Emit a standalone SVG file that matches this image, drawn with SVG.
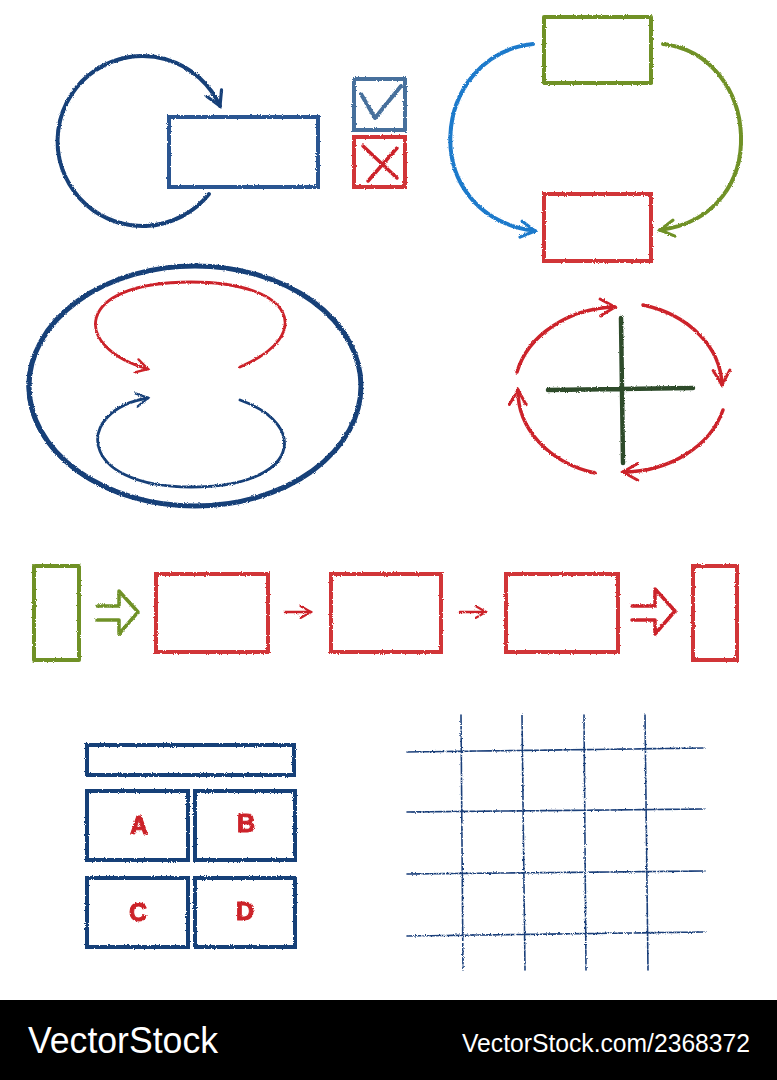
<svg xmlns="http://www.w3.org/2000/svg" width="777" height="1080" viewBox="0 0 777 1080">
<defs>
<filter id="rough" x="-5%" y="-5%" width="110%" height="110%">
<feTurbulence type="fractalNoise" baseFrequency="0.9" numOctaves="2" seed="3" result="n"/>
<feDisplacementMap in="SourceGraphic" in2="n" scale="2.6" xChannelSelector="R" yChannelSelector="G"/>
</filter>
<marker id="ahNavy" viewBox="0 0 10 10" refX="8" refY="5" markerWidth="5" markerHeight="5" orient="auto" markerUnits="strokeWidth"><path d="M1,1 L8,5 L1,9" fill="none" stroke="#173f78" stroke-width="1.6" stroke-linecap="round"/></marker>
<marker id="ahBlue" viewBox="0 0 10 10" refX="8" refY="5" markerWidth="5" markerHeight="5" orient="auto" markerUnits="strokeWidth"><path d="M1,1 L8,5 L1,9" fill="none" stroke="#1f7acb" stroke-width="1.6" stroke-linecap="round"/></marker>
<marker id="ahGreen" viewBox="0 0 10 10" refX="8" refY="5" markerWidth="5" markerHeight="5" orient="auto" markerUnits="strokeWidth"><path d="M1,1 L8,5 L1,9" fill="none" stroke="#6f9127" stroke-width="1.6" stroke-linecap="round"/></marker>
<marker id="ahRed" viewBox="0 0 10 10" refX="8" refY="5" markerWidth="6" markerHeight="6" orient="auto" markerUnits="strokeWidth"><path d="M1,1 L8,5 L1,9" fill="none" stroke="#cc2229" stroke-width="1.4" stroke-linecap="round"/></marker>
<marker id="ahNavyThin" viewBox="0 0 10 10" refX="8" refY="5" markerWidth="6" markerHeight="6" orient="auto" markerUnits="strokeWidth"><path d="M1,1 L8,5 L1,9" fill="none" stroke="#173f78" stroke-width="1.4" stroke-linecap="round"/></marker>
</defs>
<style>
.navy{fill:none;stroke:#173f78;stroke-linecap:round;stroke-linejoin:round}
.blue{fill:none;stroke:#2a5591;stroke-width:4}
.steel{fill:none;stroke:#46709c;stroke-width:4}
.red{fill:none;stroke:#cc2229;stroke-linecap:round;stroke-linejoin:round}
.redbox{fill:none;stroke:#d13438;stroke-width:4}
.green{fill:none;stroke:#6f9127;stroke-linecap:round;stroke-linejoin:round}
.grid{fill:none;stroke:#1a3f7a;stroke-width:1.6;stroke-dasharray:14 2 6 1.5;stroke-linecap:round}
.cell{fill:none;stroke:#173f78;stroke-width:4}
.letter{font-family:"Liberation Sans",Arial,sans-serif;font-weight:bold;font-size:25px;fill:#cc2229;stroke:#cc2229;stroke-width:1;text-anchor:middle}
.foot{font-family:"Liberation Sans",Arial,sans-serif;fill:#ffffff}
</style>
<rect width="777" height="1080" fill="#ffffff"/>
<g filter="url(#rough)">
<g id="loop-node">
<rect x="169" y="117" width="149" height="70" class="blue"/>
</g>
<g id="check-box">
<rect x="354" y="79" width="51" height="51" class="steel"/>
<path d="M361,94 L375,118 L401,86" class="steel" stroke-linecap="round" stroke-linejoin="round"/>
</g>
<g id="cross-box">
<rect x="354" y="137" width="51" height="50" class="redbox"/>
<path d="M363,146 L397,178 M397,148 L368,181" class="red" stroke-width="3.5"/>
</g>
<g id="top-green">
<rect x="544" y="17" width="107" height="66" class="green" stroke-width="4"/>
</g>
<g id="bottom-red">
<rect x="544" y="194" width="107" height="67" class="redbox"/>
</g>
<g id="big-ellipse">
<ellipse cx="195" cy="386" rx="166" ry="120" class="navy" stroke-width="5"/>
<path d="M32,360 A166,120 0 0 0 150,502" class="navy" stroke-width="3"/>
</g>
<g id="cross">
<path d="M621,318 L623,463 M548,390 L693,388" fill="none" stroke="#2e4b2c" stroke-width="4.5" stroke-linecap="round"/>
</g>
<g id="start-green">
<rect x="34" y="566" width="45" height="94" class="green" stroke-width="4"/>
</g>
<g id="step-1"><rect x="156" y="574" width="112" height="78" class="redbox"/></g>
<g id="step-2"><rect x="331" y="574" width="110" height="78" class="redbox"/></g>
<g id="step-3"><rect x="506" y="574" width="112" height="78" class="redbox"/></g>
<g id="end-red"><rect x="693" y="566" width="44" height="94" class="redbox"/></g>
<g id="table-header"><rect x="87" y="745" width="207" height="30" class="cell"/></g>
<g id="cell-A"><rect x="87" y="791" width="101" height="69" class="cell"/><text x="139" y="834" class="letter">A</text></g>
<g id="cell-B"><rect x="195" y="791" width="100" height="69" class="cell"/><text x="246" y="832" class="letter">B</text></g>
<g id="cell-C"><rect x="87" y="878" width="101" height="69" class="cell"/><text x="138" y="921" class="letter">C</text></g>
<g id="cell-D"><rect x="195" y="878" width="100" height="69" class="cell"/><text x="245" y="920" class="letter">D</text></g>
<g id="grid">
<path d="M461,715 L463,970 M522,715 L525,970 M584,715 L586,970 M645,715 L648,970" class="grid"/>
<path d="M407,752 L705,748 M407,812 L705,809 M407,874 L705,871 M407,936 L705,932" class="grid"/>
</g>
<g id="connectors">
<path d="M209,194 A85,85 0 1 1 220,106" class="navy" stroke-width="4" marker-end="url(#ahNavy)"/>
<path d="M533,44 C430,55 415,215 535,231" fill="none" stroke="#1f7acb" stroke-width="4" stroke-linecap="round" marker-end="url(#ahBlue)"/>
<path d="M663,44 C760,55 775,215 660,230" class="green" stroke-width="4" marker-end="url(#ahGreen)"/>
<path d="M240,367 C315,335 295,282 191,282 C72,282 72,348 148,369" class="red" stroke-width="2.8" marker-end="url(#ahRed)"/>
<path d="M240,400 C310,425 300,487 191,487 C75,487 75,410 148,398" class="navy" stroke-width="2.8" marker-end="url(#ahNavyThin)"/>
<path d="M517,372 A105,85 0 0 1 615,307" class="red" stroke-width="3.5" marker-end="url(#ahRed)"/>
<path d="M643,305 A105,85 0 0 1 722,385" class="red" stroke-width="3.5" marker-end="url(#ahRed)"/>
<path d="M723,410 A105,85 0 0 1 623,472" class="red" stroke-width="3.5" marker-end="url(#ahRed)"/>
<path d="M595,473 A105,85 0 0 1 518,390" class="red" stroke-width="3.5" marker-end="url(#ahRed)"/>
<path d="M97,606 L119,606 L119,591 L138,612 L119,634 L119,620 L97,620" class="green" stroke-width="3.5"/>
<path d="M285,612 L311,612" class="red" stroke-width="2.5" marker-end="url(#ahRed)"/>
<path d="M460,612 L486,612" class="red" stroke-width="2.5" marker-end="url(#ahRed)"/>
<path d="M632,606 L655,606 L655,589 L675,611 L655,634 L655,620 L632,620" class="red" stroke-width="3.5"/>
</g>
</g>
<g id="footer">
<rect x="0" y="1000" width="777" height="80" fill="#000000"/>
<text x="28" y="1053" class="foot" font-size="36" textLength="190" lengthAdjust="spacingAndGlyphs">VectorStock</text>
<text x="462" y="1052" class="foot" font-size="26" textLength="288" lengthAdjust="spacingAndGlyphs">VectorStock.com/2368372</text>
</g>
</svg>
